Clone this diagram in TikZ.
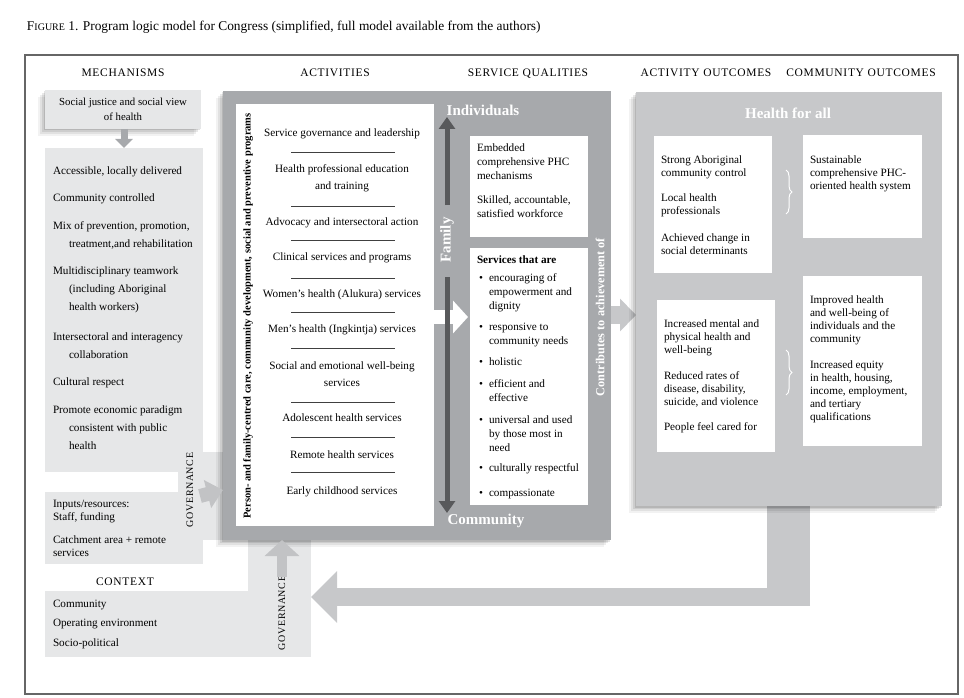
\documentclass[tikz,border=0pt]{standalone}
\usepackage{fontspec}
\setmainfont{Liberation Serif}
\newfontfamily\hdrfont[LetterSpace=6]{Liberation Serif}
\usetikzlibrary{shadows,decorations.pathreplacing,arrows.meta}
\definecolor{lgray}{HTML}{E6E7E8}
\definecolor{mgray}{HTML}{A7A9AC}
\definecolor{cgray}{HTML}{C7C8CA}
\definecolor{agray}{HTML}{C2C3C5}
\definecolor{dgray}{HTML}{58595B}
\newcommand\mylinesl[1]{\begin{tabular}[t]{@{}l@{}}#1\end{tabular}}
\newcommand\mylinesc[1]{\begin{tabular}[t]{@{}c@{}}#1\end{tabular}}
\begin{document}
\begin{tikzpicture}[x=1pt,y=-1pt,
  every node/.style={inner sep=0pt,outer sep=0pt},
  blk/.style={anchor=north west,draw=none},
  shd/.style={general shadow={shadow xshift=-7pt,shadow yshift=-7pt,fill=black,opacity=.05},
              general shadow={shadow xshift=-5pt,shadow yshift=-5pt,fill=black,opacity=.07},
              general shadow={shadow xshift=-3pt,shadow yshift=-3pt,fill=black,opacity=.09},
              general shadow={shadow xshift=-1.5pt,shadow yshift=-1.5pt,fill=black,opacity=.11}},
  hdr/.style={font=\hdrfont\fontsize{11.5}{13}\selectfont,anchor=base},
  gov/.style={font=\hdrfont\fontsize{10}{12}\selectfont,rotate=90},
  mtxt/.style={font=\fontsize{11.2}{18}\selectfont,anchor=base west},
  atxt/.style={font=\fontsize{11.2}{17}\selectfont,anchor=base},
  stxt/.style={font=\fontsize{11.2}{13.8}\selectfont,anchor=base west},
  otxt/.style={font=\fontsize{11.2}{13}\selectfont,anchor=base west},
  wtxt/.style={font=\bfseries\fontsize{15}{17}\selectfont,text=white},
  sep/.style={draw=black!75,line width=0.7pt},
  blockarrow/.style={line width=#1,line join=miter},
]
\useasboundingbox (0,0) rectangle (964,698);

% caption and frame
\node[anchor=base west,font=\fontsize{13.4}{15}\selectfont] (cap) at (27,31)
  {F{\fontsize{10}{12}\selectfont IGURE} 1. Program logic model for Congress (simplified, full model available from the authors)};
\draw[draw=black!60,line width=1.3pt] (25,55) rectangle (958,694);

% headers
\node[hdr] (hm) at (123,77) {MECHANISMS};
\node[hdr] (ha) at (335,77) {ACTIVITIES};
\node[hdr] (hs) at (528,77) {SERVICE QUALITIES};
\node[hdr] (ho) at (706,77) {ACTIVITY OUTCOMES};
\node[hdr] (hc) at (861,77) {COMMUNITY OUTCOMES};

% governance regions
\node[blk,fill=lgray,minimum width=46,minimum height=88] (gl) at (178,452) {};
\node[blk,fill=lgray,minimum width=63,minimum height=117] (gb) at (248,540) {};

% mechanisms column
\node[blk,fill=lgray,shd,minimum width=156,minimum height=39] (sj) at (45,90) {};
\node[font=\fontsize{10.8}{15}\selectfont,align=center] (sjt) at (sj.center) {Social justice and social view\\of health};
\node[blk,fill=lgray,minimum width=158,minimum height=324] (mech) at (45,148) {};
\draw[mgray,blockarrow=7pt,-{Triangle[width=17pt,length=9pt]}] (sj.south -| 124,0) -- (mech.north -| 124,0);

\node[mtxt] (m1) at (53,174.5) {Accessible, locally delivered};
\node[mtxt] (m2) at (53,201.5) {Community controlled};
\node[mtxt] (m3) at (53,229.5) {\mylinesl{Mix of prevention, promotion,\\\hspace*{16pt}treatment,and rehabilitation}};
\node[mtxt] (m4) at (53,274.5) {\mylinesl{Multidisciplinary teamwork\\\hspace*{16pt}(including Aboriginal\\\hspace*{16pt}health workers)}};
\node[mtxt] (m5) at (53,340.5) {\mylinesl{Intersectoral and interagency\\\hspace*{16pt}collaboration}};
\node[mtxt] (m6) at (53,385.5) {Cultural respect};
\node[mtxt] (m7) at (53,413.5) {\mylinesl{Promote economic paradigm\\\hspace*{16pt}consistent with public\\\hspace*{16pt}health}};

\node[blk,fill=lgray,minimum width=158,minimum height=72] (inp) at (45,492) {};
\node[otxt] (i1) at (53,507.5) {\mylinesl{Inputs/resources:\\Staff, funding}};
\node[otxt] (i2) at (53,543.5) {\mylinesl{Catchment area + remote\\services}};

\node[gov] (gov1) at (190,490) {GOVERNANCE};

% context
\node[hdr] (hx) at (125,585) {CONTEXT};
\node[blk,fill=lgray,minimum width=266,minimum height=66] (ctx) at (45,591) {};
\node[mtxt] (c1) at (53,607.5) {Community};
\node[mtxt] (c2) at (53,626.5) {Operating environment};
\node[mtxt] (c3) at (53,646.5) {Socio-political};
\node[gov] (gov2) at (282,613) {GOVERNANCE};

% return path from outcomes
\node[blk,fill=cgray,minimum width=43,minimum height=106] (ret) at (767,500) {};
\draw[cgray,blockarrow=18pt,-{Triangle[width=50pt,length=26pt]}] (ret.east |- 0,597) -- (ctx.east |- 0,597);

% activities
\node[blk,fill=mgray,shd,minimum width=388,minimum height=449] (act) at (223,91) {};
\node[blk,fill=white,minimum width=198,minimum height=422] (actw) at (236,104) {};
\draw[white,blockarrow=14pt,-{Triangle[width=32pt,length=15pt]}] (433,317) -- (468,317);

\draw[agray,blockarrow=14pt,-{Triangle[width=28pt,length=16pt]}] (gl.center -| 200,0) -- (act.west |- 0,490);
\draw[agray,blockarrow=10pt,-{Triangle[width=34pt,length=16pt]}] (282,577) -- (act.south -| 282,0);

\node[font=\bfseries\fontsize{10.5}{12}\selectfont,rotate=90] (pfc) at (248,316)
  {Person- and family-centred care, community development, social and preventive programs};

\node[atxt] (a1) at (342,136.5) {Service governance and leadership};
\node[atxt] (a2) at (342,172.5) {\mylinesc{Health professional education\\and training}};
\node[atxt] (a3) at (342,225.5) {Advocacy and intersectoral action};
\node[atxt] (a4) at (342,260.5) {Clinical services and programs};
\node[atxt] (a5) at (342,297.5) {Women’s health (Alukura) services};
\node[atxt] (a6) at (342,332.5) {Men’s health (Ingkintja) services};
\node[atxt] (a7) at (342,369.5) {\mylinesc{Social and emotional well-being\\services}};
\node[atxt] (a8) at (342,421.5) {Adolescent health services};
\node[atxt] (a9) at (342,458.5) {Remote health services};
\node[atxt] (a10) at (342,494.5) {Early childhood services};
\foreach \yy in {152,206,240,278,312,348,402,437,472}
  \draw[sep] (291,\yy) -- (395,\yy);

% service qualities
\node[blk,fill=white,minimum width=118,minimum height=101] (sq1) at (470,136) {};
\node[blk,fill=white,minimum width=118,minimum height=257] (sq2) at (470,248) {};
\draw[dgray,line width=5pt,-{Triangle[width=16pt,length=12pt]}] (447,205) -- (447,117);
\draw[dgray,line width=5pt,-{Triangle[width=16pt,length=12pt]}] (447,277) -- (447,513);
\node[wtxt] (ind) at (483,110) {Individuals};
\node[wtxt] (com) at (486,521) {Community};
\node[wtxt,rotate=90] (fam) at (447,240) {Family};
\node[wtxt,font=\bfseries\fontsize{12.3}{14}\selectfont,rotate=90] (contr) at (600,317) {Contributes to achievement of};

\node[stxt] (s1) at (477,151.5) {\mylinesl{Embedded\\comprehensive PHC\\mechanisms}};
\node[stxt] (s2) at (477,203.5) {\mylinesl{Skilled, accountable,\\satisfied workforce}};
\node[stxt,font=\bfseries\fontsize{11.2}{13.8}\selectfont] (s3) at (477,263.5) {Services that are};
\foreach \yy/\tx in {281.5/{encouraging of\\empowerment and\\dignity},330.5/{responsive to\\community needs},365.5/{holistic},387.5/{efficient and\\effective},423.5/{universal and used\\by those most in\\need},471.5/{culturally respectful},496.5/{compassionate}}
{
  \node[stxt] at (489,\yy) {\mylinesl{\tx}};
  \node[stxt] at (479,\yy) {\textbullet};
}

% arrow to outcomes
\draw[cgray,blockarrow=18pt,-{Triangle[width=32pt,length=16pt]}] (act.east |- 0,315) -- (636,315);

% outcomes
\node[blk,fill=cgray,shd,minimum width=306,minimum height=414] (out) at (636,92) {};
\node[wtxt] (hfa) at (788,113) {Health for all};
\node[blk,fill=white,minimum width=118,minimum height=137] (oa) at (654,136) {};
\node[blk,fill=white,minimum width=119,minimum height=103] (ob) at (803,135) {};
\node[blk,fill=white,minimum width=118,minimum height=152] (oc) at (657,300) {};
\node[blk,fill=white,minimum width=119,minimum height=170] (od) at (803,276) {};
\draw[white,line width=1pt,decorate,decoration={brace,amplitude=6pt}] (786,170) -- (786,214);
\draw[white,line width=1pt,decorate,decoration={brace,amplitude=6pt}] (786,350) -- (786,395);

\node[otxt] (oa1) at (661,163.5) {\mylinesl{Strong Aboriginal\\community control}};
\node[otxt] (oa2) at (661,201.5) {\mylinesl{Local health\\professionals}};
\node[otxt] (oa3) at (661,241.5) {\mylinesl{Achieved change in\\social determinants}};
\node[otxt] (ob1) at (810,163.5) {\mylinesl{Sustainable\\comprehensive PHC-\\oriented health system}};
\node[otxt] (oc1) at (664,327.5) {\mylinesl{Increased mental and\\physical health and\\well-being}};
\node[otxt] (oc2) at (664,379.5) {\mylinesl{Reduced rates of\\disease, disability,\\suicide, and violence}};
\node[otxt] (oc3) at (664,430.5) {People feel cared for};
\node[otxt] (od1) at (810,303.5) {\mylinesl{Improved health\\and well-being of\\individuals and the\\community}};
\node[otxt] (od2) at (810,368.5) {\mylinesl{Increased equity\\in health, housing,\\income, employment,\\and tertiary\\qualifications}};
\end{tikzpicture}
\end{document}
